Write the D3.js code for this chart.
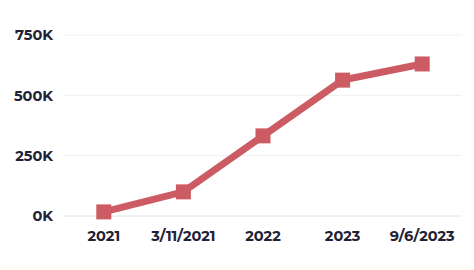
<!DOCTYPE html>
<html>
<head>
<meta charset="utf-8">
<script src="https://cdn.jsdelivr.net/npm/d3@7"></script>
<style>
  body { margin: 0; background: #fff; }
  .lbl { font-family: "Montserrat", "Inter", "DejaVu Sans", sans-serif; font-weight: 700; font-size: 14.5px; fill: #1f2236; }
</style>
</head>
<body>
<div id="chart"></div>
<script>
var categories = ["2021", "3/11/2021", "2022", "2023", "9/6/2023"];
var values = [17000, 100000, 332000, 563000, 630000];
var yTicks = [0, 250000, 500000, 750000];

var width = 474, height = 270,
    plotLeft = 64, plotRight = 462, plotTop = 35, plotBottom = 216;

var svg = d3.select("#chart").append("svg")
    .attr("width", width)
    .attr("height", height);

var x = d3.scalePoint().domain(categories).range([plotLeft, plotRight]).padding(0.5);
var y = d3.scaleLinear().domain([0, 750000]).range([plotBottom, plotTop]);

// gridlines
svg.selectAll(".grid").data(yTicks).enter().append("line")
    .attr("x1", plotLeft).attr("x2", plotRight)
    .attr("y1", d => y(d)).attr("y2", d => y(d))
    .attr("stroke", d => d == 0 ? "#e4e4e8" : "#f0f0f3")
    .attr("stroke-width", 1);

// y labels
svg.selectAll(".ylbl").data(yTicks).enter().append("text")
    .attr("class", "lbl")
    .attr("x", 53)
    .attr("y", d => y(d))
    .attr("dy", "0.36em")
    .attr("text-anchor", "end")
    .text(d => d3.format("d")(d / 1000) + "K");

// x labels
svg.selectAll(".xlbl").data(categories).enter().append("text")
    .attr("class", "lbl")
    .attr("x", d => x(d))
    .attr("y", 241)
    .attr("text-anchor", "middle")
    .text(d => d);

var pts = categories.map((c, i) => ({cat: c, v: values[i]}));

svg.append("path")
    .datum(pts)
    .attr("fill", "none")
    .attr("stroke", "#cd5b63")
    .attr("stroke-width", 7)
    .attr("stroke-linejoin", "miter")
    .attr("d", d3.line().x(d => x(d.cat)).y(d => y(d.v)));

var ms = 15;
svg.selectAll(".mark").data(pts).enter().append("rect")
    .attr("x", d => x(d.cat) - ms / 2)
    .attr("y", d => y(d.v) - ms / 2)
    .attr("width", ms).attr("height", ms)
    .attr("fill", "#cd5b63");

// faint band at bottom edge
svg.append("rect").attr("x", 0).attr("y", 266).attr("width", width).attr("height", 4).attr("fill", "#fdfdf3");
</script>
</body>
</html>
